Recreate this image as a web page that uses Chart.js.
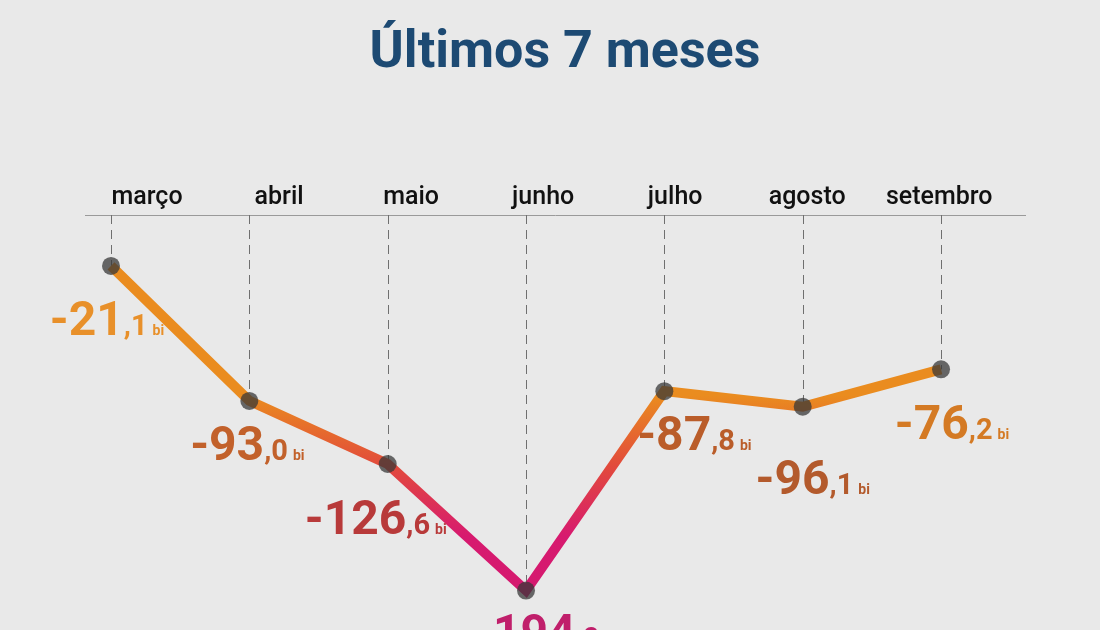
<!DOCTYPE html>
<html lang="pt-BR">
<head>
<meta charset="utf-8">
<title>Últimos 7 meses</title>
<script src="https://cdn.jsdelivr.net/npm/chart.js@4.4.1/dist/chart.umd.min.js"></script>
<style>
  html, body {
    margin: 0;
    padding: 0;
    background: #e9e9e9;
  }
  #wrap {
    width: 1100px;
    height: 630px;
  }
</style>
</head>
<body>
<div id="wrap"><canvas id="grafico"></canvas></div>
<script>
const titulo = "Últimos 7 meses";
const meses = ["março", "abril", "maio", "junho", "julho", "agosto", "setembro"];
const saldo = [-21.1, -93.0, -126.6, -194.0, -87.8, -96.1, -76.2];
const unidade = "bi";

// cores dos rótulos, ponto a ponto
const coresRotulo = ["#e8902a", "#c2612b", "#b83a3a", "#c01f6b", "#ba5d2a", "#b35a2c", "#d47a24"];
// deslocamento do rótulo em relação ao ponto (dx, dy)
const ajusteRotulo = [[-4, 69], [-2, 59], [-12, 70], [19, 57], [30, 59], [10, 87], [11, 70]];

const fundo = {
  id: "fundo",
  beforeDraw(chart) {
    const ctx = chart.ctx;
    ctx.save();
    ctx.fillStyle = "#e9e9e9";
    ctx.fillRect(0, 0, chart.width, chart.height);
    // título (um pouco à direita do centro, como no original)
    ctx.fillStyle = "#1d4a73";
    ctx.font = "bold 52px Roboto";
    ctx.textAlign = "center";
    ctx.textBaseline = "alphabetic";
    ctx.fillText(titulo, 565, 67);
    ctx.restore();
  },
};

// linhas tracejadas do eixo até cada ponto
const guias = {
  id: "guias",
  beforeDatasetsDraw(chart) {
    const ctx = chart.ctx;
    const meta = chart.getDatasetMeta(0);
    ctx.save();
    ctx.strokeStyle = "#6f6f6f";
    ctx.lineWidth = 1;
    ctx.setLineDash([9, 6]);
    meta.data.forEach((pt) => {
      ctx.beginPath();
      ctx.moveTo(Math.round(pt.x) + 0.5, chart.chartArea.top);
      ctx.lineTo(Math.round(pt.x) + 0.5, pt.y);
      ctx.stroke();
    });
    ctx.restore();
  },
};

// rótulo "-21,1 bi" com decimal e unidade menores
const rotulos = {
  id: "rotulos",
  afterDatasetsDraw(chart) {
    const ctx = chart.ctx;
    const meta = chart.getDatasetMeta(0);
    ctx.save();
    ctx.textBaseline = "alphabetic";
    ctx.textAlign = "left";
    meta.data.forEach((pt, i) => {
      const partes = saldo[i].toFixed(1).split(".");
      const inteiro = partes[0];
      const decimal = "," + partes[1];
      const fInt = "bold 48px Roboto";
      const fDec = "bold 29px Roboto";
      const fUni = "bold 14px Roboto";
      ctx.font = fInt;
      const wInt = ctx.measureText(inteiro).width;
      ctx.font = fDec;
      const wDec = ctx.measureText(decimal).width;
      ctx.font = fUni;
      const wUni = ctx.measureText(unidade).width;
      const gap = 5;
      const total = wInt + wDec + gap + wUni;
      let x = pt.x + ajusteRotulo[i][0] - total / 2;
      const y = pt.y + ajusteRotulo[i][1];
      ctx.fillStyle = coresRotulo[i];
      ctx.font = fInt;
      ctx.fillText(inteiro, x, y);
      x += wInt;
      ctx.font = fDec;
      ctx.fillText(decimal, x, y);
      x += wDec + gap;
      ctx.font = fUni;
      ctx.fillText(unidade, x, y);
    });
    ctx.restore();
  },
};

function gradienteLinha(context) {
  const chart = context.chart;
  const area = chart.chartArea;
  if (!area) return "#ea8c1f";
  const y = chart.scales.y;
  const g = chart.ctx.createLinearGradient(0, area.top, 0, area.bottom);
  const frac = (v) => Math.min(1, Math.max(0, (y.getPixelForValue(v) - area.top) / (area.bottom - area.top)));
  g.addColorStop(frac(-90), "#ea8c1f");
  g.addColorStop(frac(-127), "#e24b3b");
  g.addColorStop(frac(-165), "#d71a6f");
  g.addColorStop(1, "#d3186f");
  return g;
}

const grafico = new Chart(document.getElementById("grafico"), {
  type: "line",
  data: {
    datasets: [
      {
        data: saldo.map((v, i) => ({ x: i, y: v })),
        borderColor: gradienteLinha,
        borderWidth: 10,
        tension: 0,
        pointRadius: 9,
        pointHoverRadius: 9,
        pointBorderWidth: 0,
        pointBackgroundColor: "rgba(55, 55, 55, 0.74)",
        clip: false,
      },
    ],
  },
  options: {
    responsive: true,
    maintainAspectRatio: false,
    animation: false,
    events: [],
    layout: {
      autoPadding: false,
      padding: { left: 85, right: 75, top: 0, bottom: 0 },
    },
    scales: {
      x: {
        type: "linear",
        display: false,
        min: -0.188,
        max: 6.607,
      },
      // eixo só para os nomes dos meses (ficam um pouco deslocados dos pontos)
      x2: {
        type: "linear",
        position: "top",
        min: -0.47,
        max: 6.65,
        afterBuildTicks: (scale) => {
          scale.ticks = meses.map((m, i) => ({ value: i }));
        },
        afterFit: (scale) => {
          scale.height = 215;
        },
        ticks: {
          callback: (v) => meses[v],
          color: "#111",
          font: { family: "Roboto", size: 25, weight: 500 },
          padding: 2,
          maxRotation: 0,
          autoSkip: false,
        },
        grid: { display: false, drawTicks: false },
        border: { display: true, color: "#9a9a9a", width: 1 },
      },
      y: {
        display: false,
        min: -215,
        max: 6,
      },
    },
    plugins: {
      legend: { display: false },
      tooltip: { enabled: false },
      title: { display: false },
    },
  },
  plugins: [fundo, guias, rotulos],
});
</script>
</body>
</html>
